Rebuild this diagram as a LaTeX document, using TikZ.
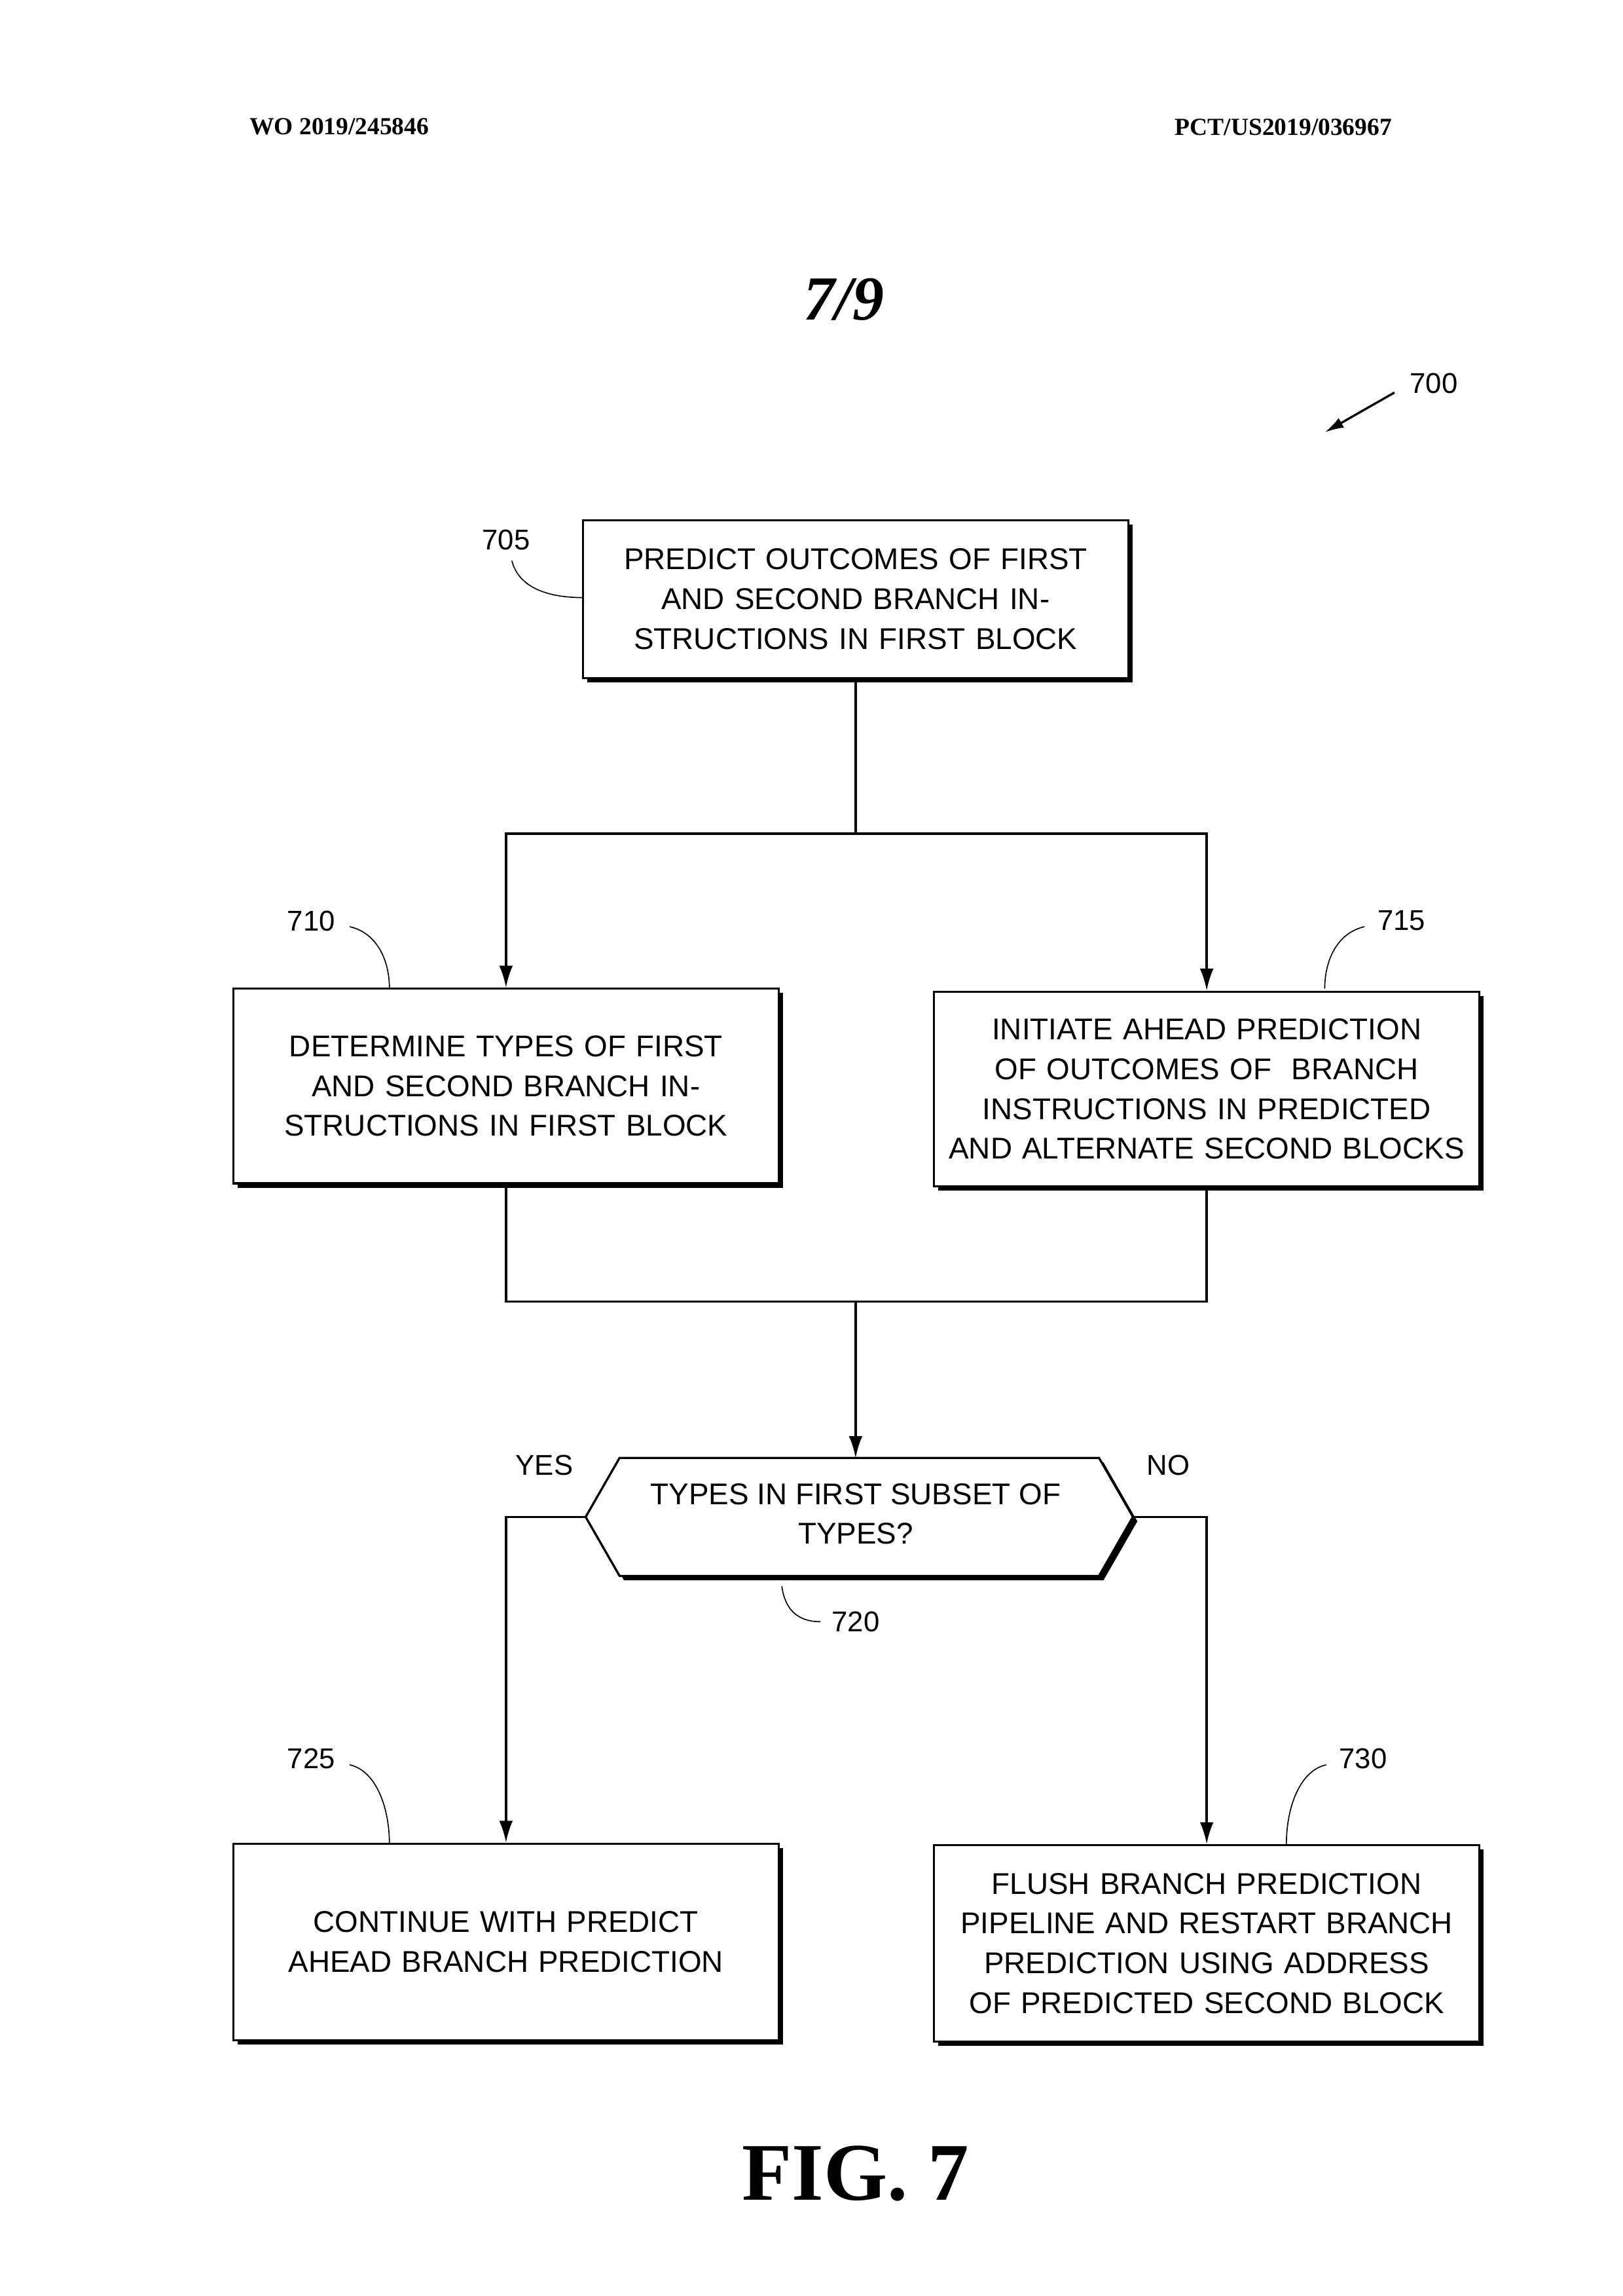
\documentclass[tikz,border=0pt]{standalone}
\usepackage{fontspec}
\setmainfont{Liberation Sans}
\newfontfamily\serifbold{Liberation Serif}
\usetikzlibrary{arrows.meta,shadows}
\begin{document}
\begin{tikzpicture}[x=0.541pt,y=-0.541pt,
  box/.style={draw,thick,fill=white,align=center,text width=190pt,
    minimum width=200pt,font=\fontsize{11}{14.6}\selectfont,
    drop shadow={shadow xshift=1.6pt,shadow yshift=-1.6pt,fill=black,opacity=1}},
  lbl/.style={font=\fontsize{10.5}{12}\selectfont},
  arr/.style={thick,-{Latex[length=8pt,width=5pt]}},
  ln/.style={thick}]
\useasboundingbox (0,0) rectangle (1100,1556);
% header
\node[font=\serifbold\bfseries\fontsize{9}{10}\selectfont] (h1) at (230,86) {WO 2019/245846};
\node[font=\serifbold\bfseries\fontsize{9}{10}\selectfont] (h2) at (870,86) {PCT/US2019/036967};
\node[font=\serifbold\bfseries\itshape\fontsize{23}{26}\selectfont] (pg) at (572,203) {7/9};
% 700
\node[lbl] (l700) at (972,260) {700};
\coordinate (a700) at (898,293);
\draw[thick,-{Latex[length=7pt,width=4pt]}] (l700.west) ++(-4,6) -- (a700);
% boxes
\node[box,minimum height=57.9pt] (b705) at (580,406) {PREDICT OUTCOMES OF FIRST AND SECOND BRANCH INSTRUCTIONS IN FIRST BLOCK};
\node[box,minimum height=71.4pt] (b710) at (343,736) {DETERMINE TYPES OF FIRST AND SECOND BRANCH INSTRUCTIONS IN FIRST BLOCK};
\node[box,minimum height=71.4pt] (b715) at (818,738) {INITIATE AHEAD PREDICTION OF OUTCOMES OF \ BRANCH INSTRUCTIONS IN PREDICTED AND ALTERNATE SECOND BLOCKS};
\node[box,minimum height=72pt] (b725) at (343,1316) {CONTINUE WITH PREDICT AHEAD BRANCH PREDICTION};
\node[box,minimum height=72pt] (b730) at (818,1317) {FLUSH BRANCH PREDICTION PIPELINE AND RESTART BRANCH PREDICTION USING ADDRESS OF PREDICTED SECOND BLOCK};
% decision hexagon
\coordinate (hl) at (397,1028);
\coordinate (hr) at (768,1028);
\fill (400,1031) -- (423,1071) -- (748,1071) -- (771,1031) -- (748,991) -- cycle;
\draw[thick,fill=white] (hl) -- (420,988) -- (745,988) -- (hr) -- (745,1068) -- (420,1068) -- cycle;
\node[align=center,font=\fontsize{11}{14.6}\selectfont] (d720) at (580,1026) {TYPES IN FIRST SUBSET OF\\TYPES?};
\node[lbl] (yes) at (369,993) {YES};
\node[lbl] (no) at (792,993) {NO};
% connectors
\coordinate (s1) at (580,565);
\coordinate (j1) at (580,882);
\draw[ln] (b705.south) -- (s1);
\draw[arr] (s1) -| (b710.north);
\draw[arr] (s1) -| (b715.north);
\draw[ln] (b710.south) |- (j1);
\draw[ln] (b715.south) |- (j1);
\draw[arr] (j1) -- (580,988);
\draw[arr] (hl) -| (b725.north);
\draw[arr] (hr) -| (b730.north);
% reference labels
\node[lbl] (l705) at (343,366) {705};
\draw[thin] (347,380) .. controls (352,400) and (375,405) .. (395,405);
\node[lbl] (l710) at (211,624) {710};
\draw[thin] (237,628) .. controls (255,632) and (264,650) .. (264,670);
\node[lbl] (l715) at (950,624) {715};
\draw[thin] (925,628) .. controls (907,632) and (898,650) .. (898,670);
\node[lbl] (l720) at (580,1099) {720};
\draw[thin] (530,1075) .. controls (532,1090) and (540,1099) .. (556,1099);
\node[lbl] (l725) at (211,1192) {725};
\draw[thin] (237,1196) .. controls (255,1200) and (264,1225) .. (264,1250);
\node[lbl] (l730) at (924,1192) {730};
\draw[thin] (899,1196) .. controls (881,1200) and (872,1225) .. (872,1250);
% figure label
\node[font=\serifbold\bfseries\fontsize{30}{34}\selectfont] (fig) at (580,1473) {FIG. 7};
\end{tikzpicture}
\end{document}
